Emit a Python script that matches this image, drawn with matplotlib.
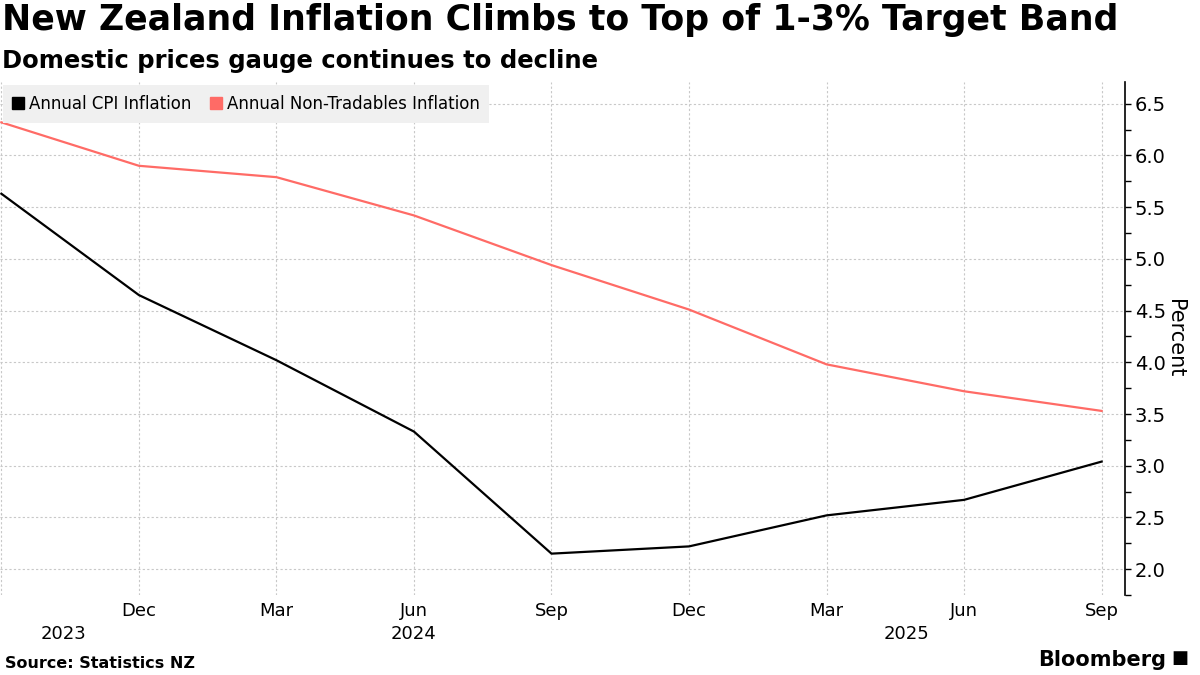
import matplotlib
matplotlib.use("Agg")
import matplotlib.pyplot as plt
from matplotlib.ticker import MultipleLocator, FixedLocator
from matplotlib.patches import Patch

quarters = ["Sep 2023", "Dec 2023", "Mar 2024", "Jun 2024", "Sep 2024",
            "Dec 2024", "Mar 2025", "Jun 2025", "Sep 2025"]
month_labels = ["", "Dec", "Mar", "Jun", "Sep", "Dec", "Mar", "Jun", "Sep"]
cpi = [5.63, 4.65, 4.02, 3.33, 2.15, 2.22, 2.52, 2.67, 3.04]
non_tradables = [6.32, 5.90, 5.79, 5.42, 4.94, 4.51, 3.98, 3.72, 3.53]
years = ["2023", "2024", "2025"]
year_pos = [0.45, 3.0, 6.58]

BLACK = "#000000"
RED = "#ff6b66"

fig = plt.figure(figsize=(12, 6.75), dpi=100)
ax = fig.add_axes([0.0, 0.1185, 0.9375, 0.76])

x = list(range(len(quarters)))
ax.plot(x, non_tradables, color=RED, lw=1.6, zorder=3)
ax.plot(x, cpi, color=BLACK, lw=1.6, zorder=3)

ax.set_xlim(-0.01, 8.17)

ax.yaxis.tick_right()
ax.yaxis.set_label_position("right")
yt = [2.0, 2.5, 3.0, 3.5, 4.0, 4.5, 5.0, 5.5, 6.0, 6.5]
ax.set_yticks(yt)
ax.set_yticklabels([f"{v:.1f}" for v in yt])
ax.yaxis.set_minor_locator(MultipleLocator(0.25))
ax.set_ylim(1.75, 6.71)
ax.tick_params(axis="y", which="major", length=4, width=1, direction="out",
               labelsize=14, pad=3, colors=BLACK)
ax.tick_params(axis="y", which="minor", length=4, width=1, direction="out", colors=BLACK)
ax.set_ylabel("Percent", fontsize=15, rotation=270, labelpad=14)

ax.xaxis.set_major_locator(FixedLocator(x))
ax.set_xticklabels(month_labels)
ax.tick_params(axis="x", length=0, labelsize=13, pad=5)

for xp, yl in zip(year_pos, years):
    ax.text(xp, -0.058, yl, transform=ax.get_xaxis_transform(), ha="center",
            va="top", fontsize=13)

ax.grid(True, which="major", axis="both", color="#c8c8c8", ls=(0, (2, 2)), lw=0.8)
for s in ["top", "left", "bottom"]:
    ax.spines[s].set_visible(False)
ax.spines["right"].set_linewidth(1.2)
ax.spines["right"].set_color(BLACK)

handles = [Patch(color=BLACK, label="Annual CPI Inflation"),
           Patch(color=RED, label="Annual Non-Tradables Inflation")]
leg = ax.legend(handles=handles, loc="upper left", ncol=2, frameon=True,
                fontsize=12, handlelength=0.7, handleheight=0.7,
                handletextpad=0.3, columnspacing=1.1, borderaxespad=0.15,
                borderpad=0.6)
leg.get_frame().set_facecolor("#f0f0f0")
leg.get_frame().set_edgecolor("none")
leg.get_frame().set_alpha(1)
leg.get_frame().set_boxstyle("square", pad=0)

fig.text(0.002, 0.995, "New Zealand Inflation Climbs to Top of 1-3% Target Band",
         fontsize=25, fontweight="bold", va="top", ha="left")
fig.text(0.002, 0.928, "Domestic prices gauge continues to decline",
         fontsize=17.5, fontweight="bold", va="top", ha="left")
fig.text(0.004, 0.006, "Source: Statistics NZ", fontsize=11.5, fontweight="bold",
         va="bottom", ha="left")
fig.text(0.972, 0.008, "Bloomberg", fontsize=15, fontweight="bold",
         va="bottom", ha="right")
fig.text(0.99, 0.012, "\u25A0", fontsize=13, va="bottom", ha="right")

fig.savefig("out.png", dpi=100)
